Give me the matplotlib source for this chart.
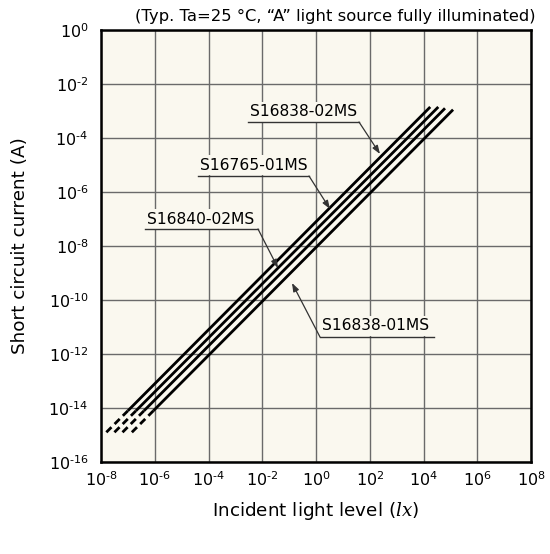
import numpy as np
import matplotlib
matplotlib.use("Agg")
import matplotlib.pyplot as plt
from matplotlib.ticker import FixedLocator, FuncFormatter, NullLocator

plt.rcParams['mathtext.fontset'] = 'custom'
plt.rcParams['mathtext.rm'] = 'DejaVu Sans'
plt.rcParams['mathtext.it'] = 'DejaVu Serif:italic'
plt.rcParams['mathtext.bf'] = 'DejaVu Sans:bold'

# ---- data ----
series_names = ["S16838-02MS", "S16765-01MS", "S16840-02MS", "S16838-01MS"]
lux_dash_start = [1.58e-8, 3.16e-8, 6.31e-8, 1.41e-7]
lux_solid_start = [1.0e-7, 2.0e-7, 3.98e-7, 8.9e-7]
lux_end = [1.78e4, 3.55e4, 6.31e4, 1.26e5]
isc_dash_start = [1.26e-15, 1.26e-15, 1.26e-15, 1.26e-15]
isc_solid_start = [7.9e-15, 7.9e-15, 7.9e-15, 7.9e-15]
isc_end = [1.41e-3, 1.41e-3, 1.26e-3, 1.12e-3]

x_ticks = [1e-8, 1e-6, 1e-4, 1e-2, 1e0, 1e2, 1e4, 1e6, 1e8]
y_ticks = [1e-16, 1e-14, 1e-12, 1e-10, 1e-8, 1e-6, 1e-4, 1e-2, 1e0]

bg = '#faf8ef'

def fmt(v, pos):
    e = int(round(np.log10(v)))
    s = str(abs(e))
    if e < 0:
        s = '\u2010' + s
    return r'$\mathregular{10^{%s}}$' % s

fig = plt.figure(figsize=(5.5, 5.54), dpi=100)
ax = fig.add_axes([101/550, 1-462/554, 430/550, 432/554])
ax.set_facecolor(bg)
ax.set_xscale('log')
ax.set_yscale('log')
ax.set_xlim(1e-8, 1e8)
ax.set_ylim(1e-16, 1e0)

ax.xaxis.set_major_locator(FixedLocator(x_ticks))
ax.yaxis.set_major_locator(FixedLocator(y_ticks))
ax.xaxis.set_minor_locator(NullLocator())
ax.yaxis.set_minor_locator(NullLocator())
ax.xaxis.set_major_formatter(FuncFormatter(fmt))
ax.yaxis.set_major_formatter(FuncFormatter(fmt))
ax.tick_params(axis='both', length=0, labelsize=11.5)
ax.tick_params(axis='x', pad=6)
ax.tick_params(axis='y', pad=9)
ax.grid(True, color='#6a6a6a', lw=1.0, zorder=0)
ax.set_axisbelow(True)
for s in ax.spines.values():
    s.set_linewidth(1.8)
    s.set_color('black')

for i in range(len(series_names)):
    ax.plot([lux_dash_start[i], lux_solid_start[i]],
            [isc_dash_start[i], isc_solid_start[i]],
            color='black', lw=2.0, linestyle=(0, (2.6, 1.6)),
            solid_capstyle='butt', dash_capstyle='butt', zorder=3)
    ax.plot([lux_solid_start[i], lux_end[i]],
            [isc_solid_start[i], isc_end[i]],
            color='black', lw=2.0, solid_capstyle='butt', zorder=3)

def ax_pt(px, py):
    return ((px - 101) / 430.0, (462 - py) / 432.0)

# label annotations: text left/center, underline, leader start, tip (pixel layout)
ann = [
    (series_names[0], 250, 112, 122, 248, 359, 359, (380, 154)),
    (series_names[1], 200, 165, 176, 198, 309, 309, (330, 209)),
    (series_names[2], 147, 219, 229, 145, 258, 258, (278, 268)),
    (series_names[3], 322, 326, 337, 320, 434, 320, (292, 283)),
]
for name, tx, ty, uy, ux0, ux1, lfx, tip in ann:
    x0, y0 = ax_pt(tx, ty)
    ax.text(x0, y0, name, transform=ax.transAxes, ha='left', va='center',
            fontsize=11.2, color='black', zorder=5,
            bbox=dict(boxstyle='square,pad=0.15', facecolor=bg, edgecolor='none'))
    a0 = ax_pt(ux0, uy)
    a1 = ax_pt(ux1, uy)
    ax.plot([a0[0], a1[0]], [a0[1], a1[1]], transform=ax.transAxes,
            color='#333333', lw=1.0, zorder=6)
    s = ax_pt(lfx, uy)
    t = ax_pt(*tip)
    ax.annotate('', xy=t, xycoords='axes fraction', xytext=s,
                textcoords='axes fraction', zorder=6,
                arrowprops=dict(arrowstyle='-|>,head_length=0.5,head_width=0.18',
                                color='#333333', lw=0.9, shrinkA=0, shrinkB=0))

ax.set_xlabel(r'Incident light level ($\mathit{lx}$)', fontsize=13.2, labelpad=8)
ax.set_ylabel('Short circuit current (A)', fontsize=13.2, labelpad=14)

fig.text(536/550, 1-16/554, '(Typ. Ta=25 °C, \u201cA\u201d light source fully illuminated)',
         ha='right', va='center', fontsize=11.8)

fig.savefig('out.png', dpi=100, facecolor='white')
